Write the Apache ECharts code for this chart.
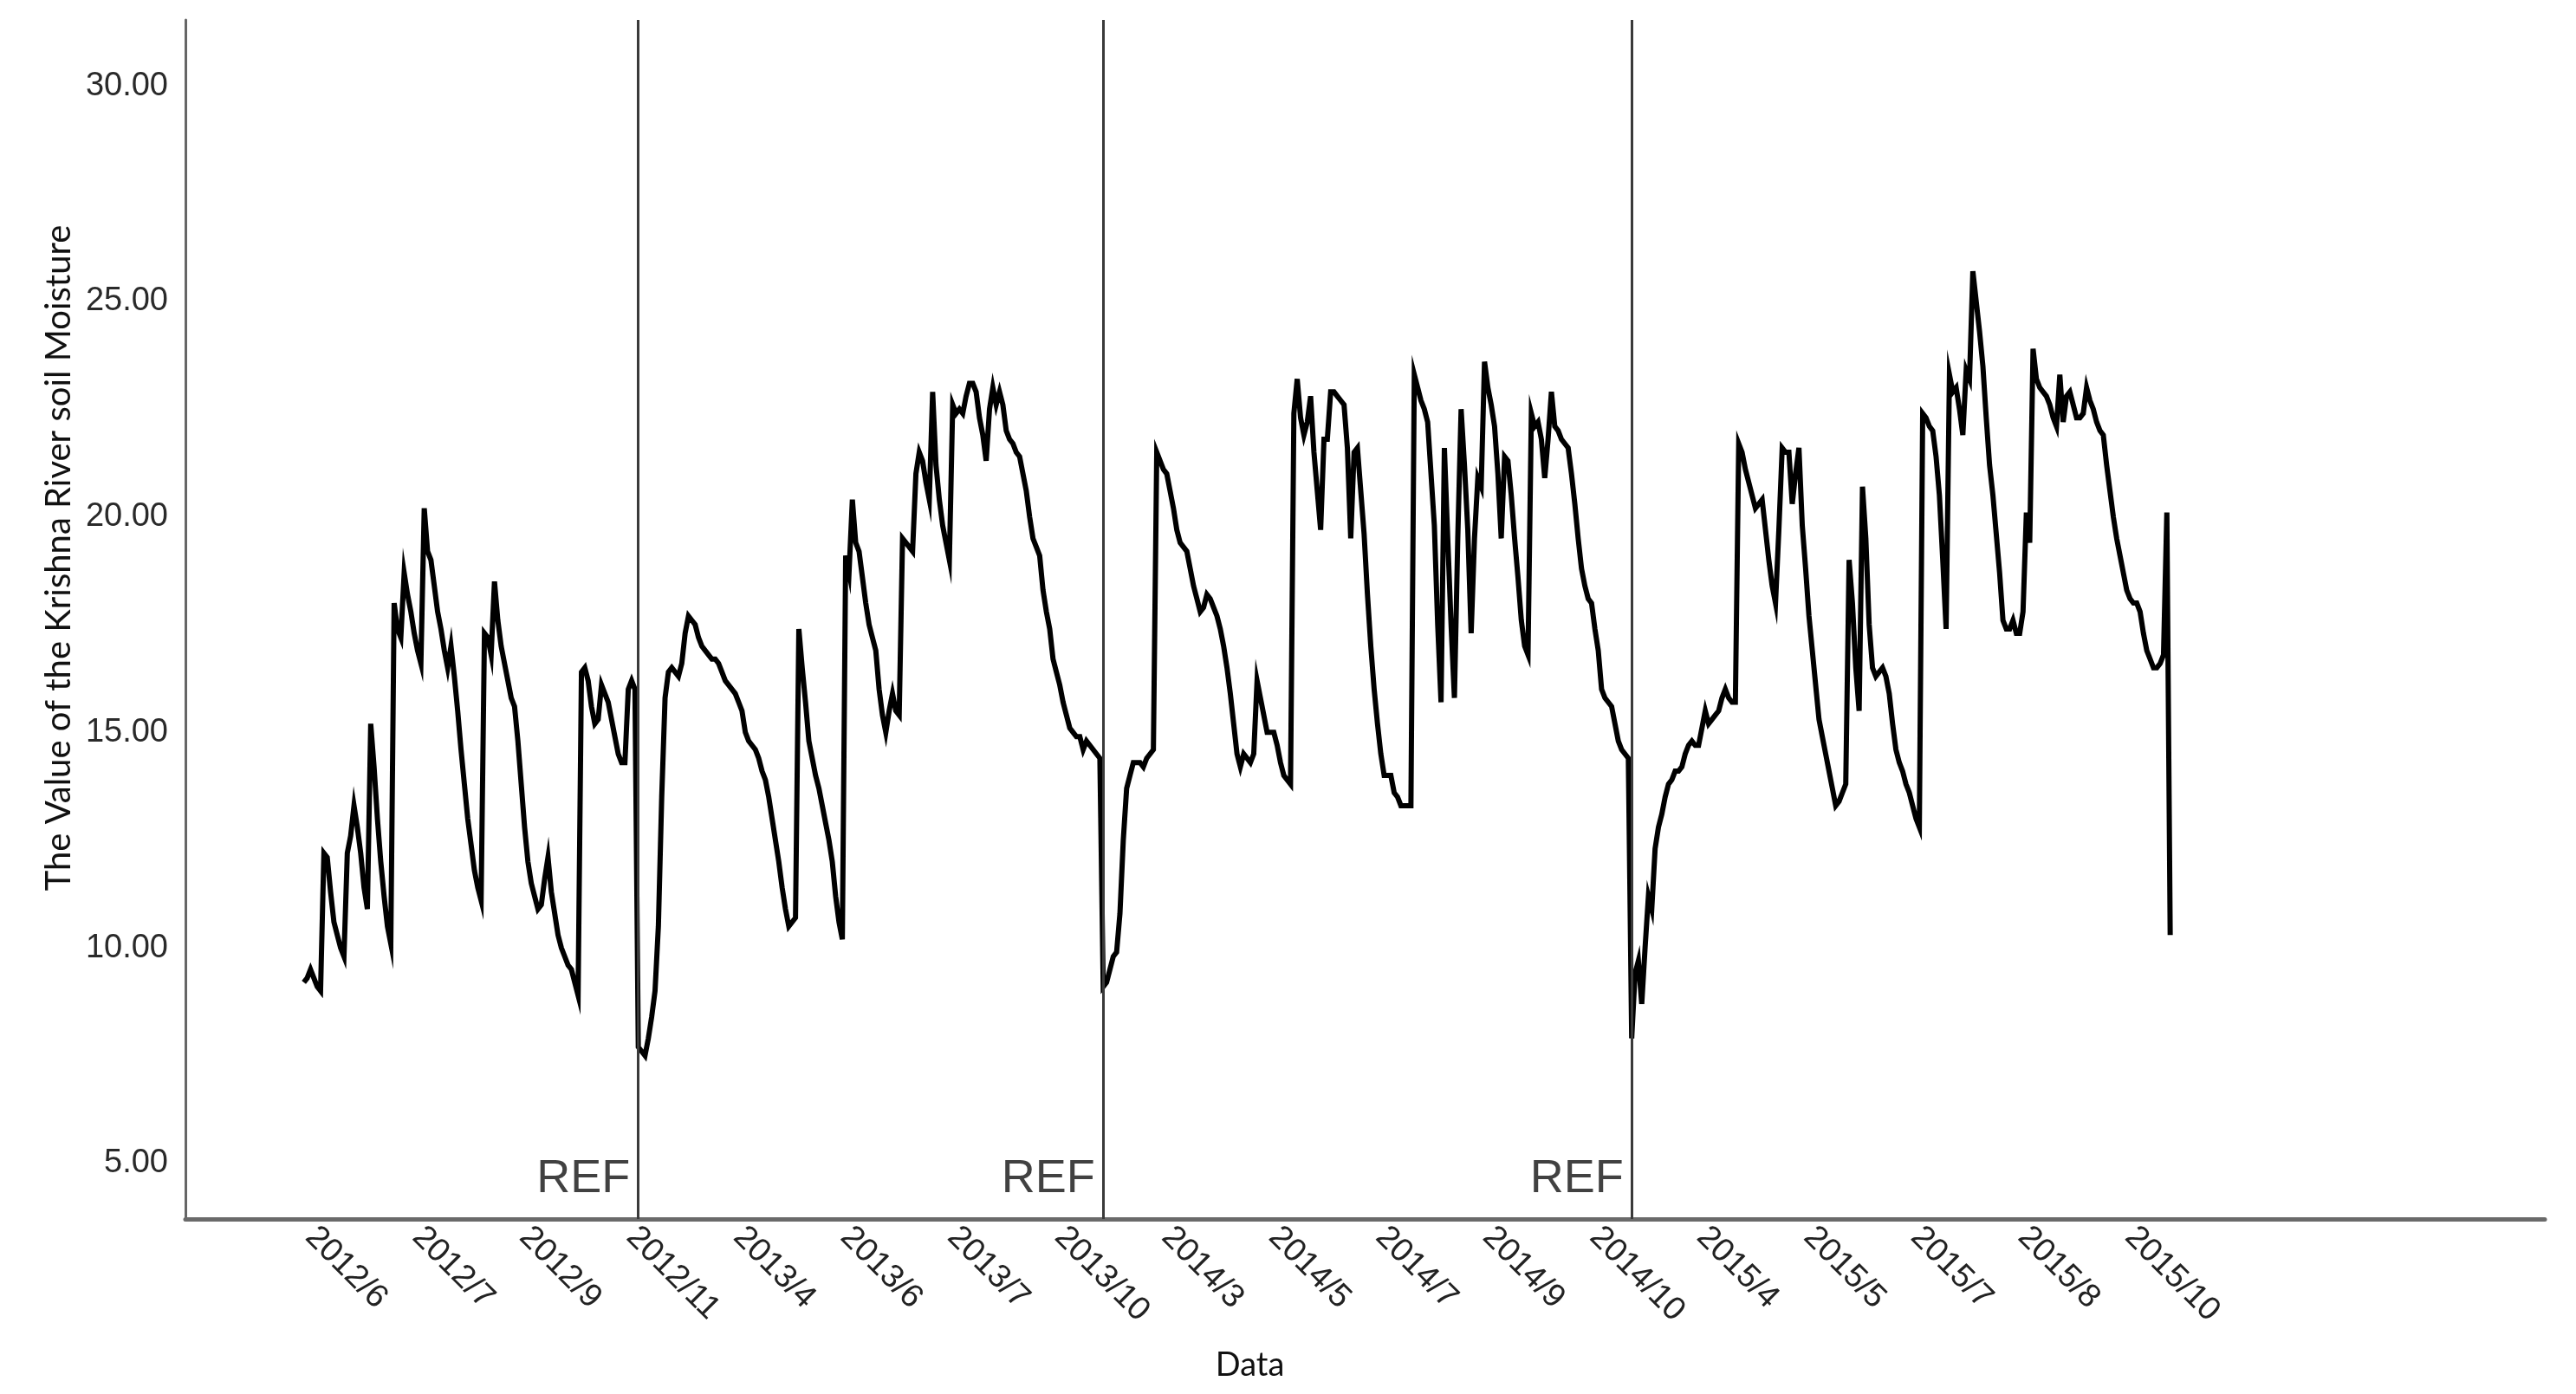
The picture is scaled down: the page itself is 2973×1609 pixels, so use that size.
<!DOCTYPE html>
<html><head><meta charset="utf-8">
<script src="https://cdn.jsdelivr.net/npm/echarts@6/dist/echarts.min.js"></script>
<style>html,body{margin:0;padding:0;background:#fff}#chart{width:2973px;height:1609px}</style>
</head><body><div id="chart"></div>
<script>
const tickLabels = ["2012/6","2012/7","2012/9","2012/11","2013/4","2013/6","2013/7","2013/10","2014/3","2014/5","2014/7","2014/9","2014/10","2015/4","2015/5","2015/7","2015/8","2015/10"];
const firstLabelCase = 2;
const casesPerLabel = 32;
const refCases = [100, 239, 397];
const refLabelValue = 4.63;
const yTickValues = [5, 10, 15, 20, 25, 30];

const moisture2012 = [
9.2,9.3,9.5,9.3,9.1,9.0,12.2,12.1,11.3,10.6,
10.3,10.0,9.8,12.2,12.6,13.3,12.8,12.2,11.4,10.9,
15.2,14.2,13.0,12.0,11.2,10.5,10.1,18.0,17.4,17.2,
18.7,18.2,17.8,17.3,16.9,16.6,20.2,19.2,19.0,18.4,
17.8,17.4,16.9,16.5,17.0,16.3,15.5,14.6,13.8,13.0,
12.4,11.8,11.4,11.1,17.3,17.2,16.8,18.5,17.6,17.0,
16.6,16.2,15.8,15.6,14.8,13.8,12.8,12.0,11.5,11.2,
10.9,11.0,11.6,12.1,11.3,10.8,10.3,10.0,9.8,9.6,
9.5,9.2,8.9,16.4,16.5,16.2,15.6,15.2,15.3,16.1,
15.9,15.7,15.3,14.9,14.5,14.3,14.3,16.0,16.2,16.0
];
const moisture2013 = [
7.7,7.6,7.5,7.9,8.4,9.0,10.5,13.5,15.8,16.4,
16.5,16.4,16.3,16.6,17.3,17.7,17.6,17.5,17.2,17.0,
16.9,16.8,16.7,16.7,16.6,16.4,16.2,16.1,16.0,15.9,
15.7,15.5,15.0,14.8,14.7,14.6,14.4,14.1,13.9,13.5,
13.0,12.5,12.0,11.4,10.9,10.5,10.6,10.7,17.4,16.5,
15.7,14.8,14.4,14.0,13.7,13.3,12.9,12.5,12.0,11.2,
10.6,10.2,19.1,18.7,20.4,19.4,19.2,18.6,18.0,17.5,
17.2,16.9,16.0,15.4,15.0,15.5,15.9,15.5,15.4,19.5,
19.4,19.3,19.2,21.0,21.5,21.3,20.8,20.4,22.9,21.2,
20.4,19.8,19.4,19.0,22.6,22.4,22.5,22.4,22.8,23.1,
23.1,22.9,22.3,21.9,21.3,22.5,23.0,22.6,22.9,22.6,
22.0,21.8,21.7,21.5,21.4,21.0,20.6,20.0,19.5,19.3,
19.1,18.3,17.8,17.4,16.7,16.4,16.1,15.7,15.4,15.1,
15.0,14.9,14.9,14.6,14.8,14.7,14.6,14.5,14.4
];
const moisture2014 = [
9.1,9.2,9.5,9.8,9.9,10.8,12.5,13.7,14.0,14.3,
14.3,14.3,14.2,14.4,14.5,14.6,21.5,21.3,21.1,21.0,
20.6,20.2,19.7,19.4,19.3,19.2,18.8,18.4,18.1,17.8,
17.9,18.2,18.1,17.9,17.7,17.4,17.0,16.5,15.9,15.2,
14.5,14.2,14.5,14.4,14.3,14.5,16.2,15.8,15.4,15.0,
15.0,15.0,14.7,14.3,14.0,13.9,13.8,22.4,23.2,22.3,
21.9,22.2,22.8,21.5,20.6,19.7,21.8,21.8,22.9,22.9,
22.8,22.7,22.6,21.6,19.5,21.5,21.6,20.6,19.6,18.2,
17.0,16.0,15.2,14.5,14.0,14.0,14.0,13.6,13.5,13.3,
13.3,13.3,13.3,23.3,23.0,22.7,22.5,22.2,21.0,19.8,
17.5,15.7,21.6,19.5,17.5,15.8,19.5,22.5,21.2,19.7,
17.3,19.5,20.9,20.7,23.6,23.0,22.6,22.1,21.0,19.5,
21.4,21.3,20.5,19.5,18.6,17.6,17.0,16.8,22.4,22.1,
22.2,21.8,20.9,21.8,22.9,22.1,22.0,21.8,21.7,21.6,
21.0,20.3,19.5,18.8,18.4,18.1,18.0,17.4,16.9,16.0,
15.8,15.7,15.6,15.2,14.8,14.6,14.5,14.4
];
const moisture2015 = [
7.9,9.4,9.7,8.7,10.0,11.2,10.9,12.3,12.8,13.1,
13.5,13.8,13.9,14.1,14.1,14.2,14.5,14.7,14.8,14.7,
14.7,15.1,15.5,15.2,15.3,15.4,15.5,15.8,16.0,15.8,
15.7,15.7,21.7,21.5,21.1,20.8,20.5,20.2,20.3,20.4,
19.7,19.0,18.4,18.0,19.7,21.6,21.5,21.5,20.3,21.0,
21.6,19.8,18.8,17.7,16.9,16.1,15.3,14.9,14.5,14.1,
13.7,13.3,13.4,13.6,13.8,19.0,18.0,16.5,15.5,20.7,
19.5,17.5,16.5,16.3,16.4,16.5,16.3,15.9,15.2,14.6,
14.3,14.1,13.8,13.6,13.3,13.0,12.8,22.4,22.3,22.1,
22.0,21.4,20.5,19.0,17.4,23.3,22.9,23.0,22.5,21.9,
23.4,23.2,25.7,25.0,24.3,23.5,22.3,21.2,20.5,19.6,
18.7,17.6,17.4,17.4,17.6,17.3,17.3,17.8,20.1,19.4,
23.9,23.2,23.0,22.9,22.8,22.6,22.3,22.1,23.3,22.2,
22.8,22.9,22.6,22.3,22.3,22.4,23.0,22.7,22.5,22.2,
22.0,21.9,21.2,20.6,20.0,19.5,19.1,18.7,18.3,18.1,
18.0,18.0,17.8,17.3,16.9,16.7,16.5,16.5,16.6,16.8,
20.1,10.3
];

const values = [].concat(moisture2012, moisture2013, moisture2014, moisture2015);
const lineData = values.map((v, i) => [i, v]);
const labelCases = tickLabels.map((_, j) => firstLabelCase + j * casesPerLabel);

const chart = echarts.init(document.getElementById('chart'), null, {renderer: 'canvas'});
chart.setOption({
  animation: false,
  backgroundColor: '#ffffff',
  grid: {left: 214, top: 23, right: 36, bottom: 202, containLabel: false},
  xAxis: {
    type: 'value', min: -35.4, max: 670,
    axisLine: {show: true, onZero: false, lineStyle: {color: '#6a6a6a', width: 5}},
    axisTick: {show: false}, splitLine: {show: false},
    axisLabel: {
      customValues: labelCases,
      formatter: v => { const k = labelCases.indexOf(v); return k >= 0 ? tickLabels[k] : ''; },
      rotate: -45, margin: 15, fontSize: 38, color: '#222', fontFamily: 'Liberation Sans, Arial'
    },
    name: 'Data', nameLocation: 'middle', nameGap: 150,
    nameTextStyle: {fontSize: 38, fontFamily: 'Lato', color: '#111', padding: [0, 266, 0, 0]}
  },
  yAxis: {
    type: 'value', min: 3.71, max: 31.53,
    axisLine: {show: true, onZero: false, lineStyle: {color: '#666', width: 3}},
    axisTick: {show: false}, splitLine: {show: false},
    axisLabel: {
      customValues: yTickValues,
      formatter: v => v.toFixed(2),
      margin: 20, fontSize: 38, color: '#2a2a2a', fontFamily: 'Liberation Sans, Arial'
    },
    name: 'The Value of the Krishna River soil Moisture', nameLocation: 'middle', nameRotate: 90, nameGap: 125,
    nameTextStyle: {fontSize: 40, fontFamily: 'Lato', color: '#111', padding: [0, 0, 0, 142]}
  },
  series: [
    {
      type: 'line', data: lineData, showSymbol: false, symbol: 'none', z: 3,
      lineStyle: {color: '#000', width: 6, join: 'miter'},
      markLine: {
        silent: true, symbol: 'none', label: {show: false},
        lineStyle: {type: 'solid', color: '#3a3a3a', width: 3},
        data: refCases.map(c => ({xAxis: c}))
      }
    },
    {
      type: 'scatter', data: refCases.map(c => [c, refLabelValue]), symbolSize: 1, silent: true,
      itemStyle: {color: 'transparent'},
      label: {show: true, formatter: 'REF', position: 'left', distance: 9, fontSize: 54, color: '#111', fontFamily: 'Liberation Sans, Arial'}
    }
  ]
});
</script>
</body></html>
